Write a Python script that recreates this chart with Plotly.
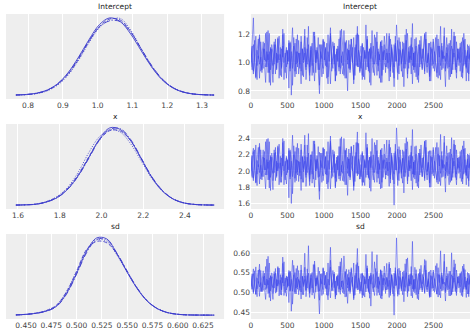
import numpy as np
import plotly.graph_objects as go
from plotly.subplots import make_subplots

# Posterior trace summary for three parameters, four chains each
VAR_NAMES = ["Intercept", "x", "sd"]
N_DRAWS = 3000

# Kernel density estimates per chain (grid + relative density)
KDE_GRID_INTERCEPT = [0.765, 0.795, 0.825, 0.855, 0.885, 0.915, 0.945, 0.975, 1.005, 1.035,
                      1.065, 1.095, 1.125, 1.155, 1.185, 1.215, 1.245, 1.275, 1.305, 1.335]
KDE_INTERCEPT = [
    [0.002, 0.009, 0.026, 0.066, 0.148, 0.29, 0.49, 0.715, 0.91, 0.998, 0.95, 0.79, 0.575, 0.365, 0.2, 0.096, 0.04, 0.014, 0.005, 0.001],
    [0.002, 0.007, 0.022, 0.06, 0.138, 0.27, 0.462, 0.69, 0.885, 0.985, 0.97, 0.82, 0.6, 0.38, 0.21, 0.1, 0.042, 0.015, 0.005, 0.001],
    [0.001, 0.006, 0.02, 0.056, 0.13, 0.258, 0.45, 0.675, 0.87, 0.97, 0.99, 0.84, 0.6, 0.37, 0.205, 0.1, 0.041, 0.016, 0.005, 0.001],
    [0.002, 0.008, 0.025, 0.065, 0.145, 0.28, 0.478, 0.7, 0.88, 0.96, 0.95, 0.815, 0.6, 0.385, 0.212, 0.102, 0.043, 0.015, 0.005, 0.001],
]
KDE_GRID_X = [1.59, 1.64, 1.69, 1.74, 1.79, 1.84, 1.89, 1.94, 1.99, 2.04,
              2.09, 2.14, 2.19, 2.24, 2.29, 2.34, 2.39, 2.44, 2.49, 2.54]
KDE_X = [
    [0.001, 0.004, 0.013, 0.043, 0.1, 0.21, 0.385, 0.615, 0.85, 0.995, 0.975, 0.83, 0.6, 0.36, 0.188, 0.083, 0.031, 0.01, 0.003, 0.001],
    [0.001, 0.005, 0.015, 0.048, 0.11, 0.222, 0.398, 0.625, 0.84, 0.96, 0.955, 0.83, 0.6, 0.368, 0.193, 0.086, 0.033, 0.011, 0.003, 0.001],
    [0.001, 0.005, 0.016, 0.05, 0.115, 0.235, 0.43, 0.68, 0.88, 0.97, 0.94, 0.79, 0.57, 0.35, 0.185, 0.085, 0.033, 0.011, 0.003, 0.001],
    [0.001, 0.004, 0.012, 0.042, 0.1, 0.208, 0.38, 0.605, 0.835, 0.975, 0.985, 0.845, 0.61, 0.372, 0.195, 0.086, 0.031, 0.01, 0.003, 0.001],
]
KDE_GRID_SD = [0.44, 0.45, 0.46, 0.47, 0.48, 0.49, 0.50, 0.51, 0.52, 0.53,
               0.54, 0.55, 0.56, 0.57, 0.58, 0.59, 0.60, 0.61, 0.62, 0.636]
KDE_SD = [
    [0.003, 0.01, 0.024, 0.052, 0.115, 0.28, 0.54, 0.83, 1.0, 0.985, 0.79, 0.555, 0.34, 0.178, 0.082, 0.032, 0.011, 0.003, 0.001, 0.0002],
    [0.003, 0.011, 0.026, 0.058, 0.125, 0.3, 0.565, 0.85, 0.955, 0.935, 0.79, 0.565, 0.348, 0.183, 0.084, 0.033, 0.011, 0.003, 0.001, 0.0002],
    [0.003, 0.01, 0.027, 0.06, 0.13, 0.305, 0.57, 0.845, 0.975, 0.955, 0.775, 0.555, 0.345, 0.182, 0.083, 0.032, 0.011, 0.003, 0.001, 0.0002],
    [0.002, 0.009, 0.023, 0.05, 0.11, 0.27, 0.53, 0.81, 0.98, 0.975, 0.8, 0.57, 0.35, 0.184, 0.085, 0.033, 0.011, 0.003, 0.001, 0.0002],
]

# Thinned chain draws (Intercept and x in hundredths, sd in thousandths)
DRAWS_INTERCEPT = [
    [106, 95, 113, 101, 89, 108, 117, 99, 104, 93, 110, 102, 121, 97, 106, 86, 111, 103, 98, 115,
     92, 107, 100, 119, 105, 96, 112, 88, 103, 109, 99, 114, 94, 106, 125, 101, 90, 108, 97, 116,
     103, 85, 110, 100, 107, 95, 118, 104, 91, 111, 98, 122, 102, 93, 109, 106, 84, 113, 100, 96,
     115, 103, 89, 108, 101, 119, 94, 105, 112, 87, 104, 110, 97, 123, 99, 92, 107, 114, 102, 80,
     109, 96, 117, 101, 88, 106, 113, 98, 120, 94, 105, 91, 111, 103, 127, 97, 108, 86, 114, 100,
     93, 106, 118, 99, 110, 89, 104, 116, 95, 109, 102, 121, 96, 107, 90, 113, 101, 97, 119, 105,
     88, 110, 103, 94, 115, 106, 99, 124, 92, 108, 100, 113, 85, 107, 97, 118, 103, 91, 111, 104,
     96, 109, 120, 101, 93, 106, 114, 87, 102, 117, 107, 99, 90, 112, 104, 126, 95, 108, 100, 83,
     111, 103, 97, 116, 92, 106, 119, 101, 89, 110, 98, 114, 105, 93, 121, 102, 96, 109, 87, 113],
    [97, 112, 132, 101, 90, 109, 103, 118, 94, 106, 115, 99, 86, 108, 102, 121, 95, 110, 92, 104,
     113, 100, 117, 89, 106, 97, 124, 103, 93, 111, 101, 116, 96, 108, 84, 105, 114, 99, 120, 92,
     107, 94, 110, 102, 119, 88, 104, 113, 97, 109, 91, 106, 122, 100, 111, 95, 78, 108, 103, 117,
     105, 98, 114, 90, 107, 125, 101, 96, 112, 87, 110, 103, 94, 118, 100, 108, 91, 115, 106, 99,
     116, 93, 105, 111, 85, 102, 120, 97, 109, 104, 96, 113, 101, 88, 107, 117, 94, 110, 103, 123,
     100, 91, 108, 115, 98, 106, 86, 112, 102, 119, 109, 97, 103, 121, 94, 111, 100, 89, 114, 105,
     93, 118, 106, 99, 110, 83, 107, 116, 101, 96, 112, 102, 128, 95, 108, 90, 104, 113, 97, 119,
     103, 110, 92, 117, 100, 106, 87, 111, 98, 115, 94, 107, 120, 103, 91, 109, 114, 96, 105, 101,
     118, 99, 88, 108, 112, 95, 122, 104, 93, 110, 106, 100, 115, 89, 103, 117, 97, 108, 92, 111],
    [111, 99, 92, 116, 105, 88, 109, 120, 101, 95, 107, 114, 97, 103, 123, 93, 110, 100, 86, 113,
     102, 96, 118, 106, 91, 110, 104, 121, 98, 89, 108, 101, 115, 77, 105, 112, 94, 117, 100, 107,
     96, 119, 103, 90, 111, 105, 99, 126, 93, 108, 114, 100, 87, 109, 103, 118, 95, 106, 113, 92,
     104, 110, 97, 120, 101, 85, 108, 115, 99, 106, 91, 112, 103, 96, 124, 107, 100, 89, 116, 102,
     109, 95, 117, 104, 88, 111, 98, 121, 106, 93, 101, 114, 90, 108, 103, 119, 96, 110, 84, 105,
     112, 99, 106, 122, 94, 102, 115, 91, 108, 100, 97, 110, 103, 87, 117, 105, 93, 113, 101, 127,
     106, 92, 115, 100, 109, 96, 120, 104, 89, 111, 103, 118, 98, 107, 93, 112, 101, 86, 116, 105,
     95, 109, 121, 102, 97, 114, 90, 106, 110, 99, 108, 100, 93, 117, 105, 88, 112, 103, 119, 96,
     101, 113, 106, 90, 124, 99, 107, 95, 115, 102, 110, 94, 104, 118, 98, 109, 87, 113, 103, 106],
    [100, 112, 94, 107, 119, 98, 105, 89, 115, 103, 96, 110, 101, 122, 93, 108, 84, 113, 104, 99,
     117, 95, 106, 102, 111, 90, 120, 100, 107, 97, 109, 82, 114, 103, 96, 118, 101, 92, 108, 106,
     99, 115, 91, 105, 124, 97, 110, 103, 87, 112, 104, 93, 119, 100, 108, 95, 113, 106, 90, 116,
     102, 111, 97, 85, 107, 121, 99, 104, 114, 94, 108, 101, 117, 92, 105, 98, 123, 103, 89, 110,
     96, 113, 104, 100, 118, 91, 107, 126, 97, 106, 112, 88, 103, 109, 95, 116, 101, 93, 111, 105,
     99, 120, 106, 91, 108, 102, 115, 86, 104, 113, 93, 107, 100, 119, 97, 110, 105, 83, 112, 101,
     116, 98, 109, 103, 90, 114, 96, 106, 121, 100, 105, 92, 111, 97, 117, 102, 88, 108, 113, 99,
     110, 103, 94, 122, 100, 107, 91, 115, 104, 96, 101, 118, 105, 89, 112, 98, 109, 103, 125, 94,
     107, 96, 114, 100, 92, 110, 104, 119, 97, 106, 103, 111, 90, 108, 116, 99, 105, 93, 112, 102],
]
DRAWS_X = [
    [210, 192, 224, 203, 185, 214, 229, 198, 207, 189, 217, 201, 236, 195, 211, 179, 219, 204, 197, 226,
     188, 212, 200, 233, 209, 193, 221, 183, 205, 216, 198, 225, 190, 210, 244, 202, 186, 214, 195, 228,
     204, 176, 218, 199, 212, 192, 232, 207, 187, 220, 196, 237, 203, 189, 215, 209, 175, 222, 200, 194,
     227, 205, 184, 213, 202, 235, 191, 208, 221, 181, 206, 218, 194, 240, 199, 188, 211, 225, 203, 170,
     215, 193, 230, 201, 182, 209, 223, 197, 234, 190, 208, 186, 219, 204, 247, 195, 213, 179, 224, 200,
     189, 210, 232, 197, 217, 184, 206, 228, 192, 214, 203, 238, 194, 211, 185, 222, 201, 196, 233, 208,
     182, 217, 205, 191, 226, 210, 198, 241, 188, 213, 200, 223, 177, 211, 195, 231, 205, 187, 219, 207,
     193, 214, 236, 202, 189, 209, 225, 180, 204, 229, 212, 198, 186, 221, 206, 245, 192, 213, 200, 174,
     218, 204, 196, 227, 188, 210, 233, 201, 183, 216, 197, 224, 208, 190, 237, 203, 194, 215, 181, 222],
    [194, 219, 228, 201, 186, 213, 205, 230, 190, 209, 226, 198, 178, 214, 203, 236, 192, 217, 188, 207,
     223, 200, 229, 183, 210, 195, 240, 205, 189, 218, 202, 228, 193, 212, 172, 207, 224, 197, 234, 187,
     211, 190, 217, 203, 232, 181, 206, 222, 195, 214, 185, 209, 237, 200, 219, 192, 165, 213, 204, 229,
     208, 196, 224, 186, 211, 243, 201, 193, 220, 179, 217, 204, 190, 230, 199, 212, 187, 226, 209, 197,
     227, 189, 207, 218, 176, 203, 235, 194, 215, 206, 193, 222, 201, 182, 211, 229, 191, 217, 204, 240,
     200, 186, 213, 225, 196, 209, 178, 220, 203, 233, 214, 195, 205, 238, 190, 219, 199, 184, 224, 208,
     189, 230, 209, 197, 216, 173, 211, 227, 201, 193, 220, 203, 251, 192, 213, 185, 206, 222, 195, 232,
     204, 217, 188, 229, 199, 210, 180, 218, 196, 226, 191, 211, 235, 203, 187, 215, 224, 193, 208, 200,
     231, 197, 183, 212, 221, 192, 238, 206, 189, 216, 209, 199, 226, 184, 204, 228, 195, 213, 188, 219],
    [218, 198, 188, 226, 207, 182, 214, 234, 201, 193, 211, 224, 195, 204, 240, 189, 217, 200, 177, 222,
     203, 194, 231, 209, 186, 216, 206, 237, 197, 184, 213, 201, 226, 160, 207, 220, 191, 229, 199, 212,
     194, 233, 204, 186, 218, 207, 198, 246, 190, 213, 224, 200, 180, 214, 203, 230, 193, 209, 222, 188,
     206, 217, 195, 236, 202, 178, 212, 226, 198, 209, 187, 219, 204, 194, 242, 211, 200, 183, 228, 203,
     215, 192, 230, 206, 181, 218, 197, 235, 209, 190, 201, 224, 186, 212, 204, 233, 193, 217, 175, 208,
     220, 198, 209, 238, 191, 203, 226, 186, 213, 200, 195, 216, 204, 181, 229, 207, 189, 222, 201, 253,
     209, 188, 226, 199, 215, 193, 234, 206, 184, 218, 203, 231, 196, 211, 190, 221, 201, 179, 227, 207,
     193, 214, 237, 203, 195, 224, 185, 209, 217, 198, 212, 200, 189, 229, 207, 182, 219, 204, 235, 194,
     201, 222, 209, 186, 241, 197, 212, 192, 226, 203, 217, 191, 205, 231, 196, 214, 183, 221, 204, 209],
    [200, 219, 191, 211, 232, 196, 208, 184, 226, 204, 193, 216, 201, 239, 189, 213, 176, 222, 205, 198,
     229, 192, 210, 203, 218, 186, 235, 200, 212, 195, 214, 167, 224, 204, 193, 231, 201, 188, 213, 209,
     198, 226, 186, 207, 244, 195, 217, 204, 182, 220, 205, 190, 233, 200, 213, 192, 223, 209, 186, 228,
     203, 218, 196, 178, 211, 237, 198, 206, 224, 191, 213, 201, 230, 188, 207, 197, 240, 204, 183, 217,
     194, 222, 206, 200, 232, 187, 211, 248, 196, 209, 220, 182, 204, 214, 192, 228, 201, 189, 218, 207,
     198, 235, 209, 186, 213, 202, 226, 179, 206, 221, 190, 211, 200, 233, 195, 217, 207, 158, 219, 201,
     227, 197, 214, 203, 185, 224, 193, 209, 236, 200, 207, 188, 218, 196, 230, 202, 181, 213, 222, 198,
     216, 204, 191, 238, 200, 211, 186, 225, 205, 194, 201, 229, 207, 184, 219, 197, 214, 203, 243, 191,
     211, 194, 223, 200, 189, 216, 206, 232, 196, 209, 204, 218, 187, 212, 227, 198, 207, 191, 220, 203],
]
DRAWS_SD = [
    [529, 508, 548, 518, 495, 535, 557, 514, 525, 501, 540, 519, 566, 510, 531, 487, 543, 522, 512, 553,
     498, 533, 516, 562, 528, 506, 545, 492, 523, 538, 513, 551, 503, 530, 582, 519, 496, 536, 508, 556,
     522, 483, 541, 515, 533, 505, 560, 526, 497, 544, 511, 571, 521, 500, 537, 529, 480, 547, 516, 507,
     554, 523, 493, 534, 518, 565, 504, 527, 547, 489, 525, 542, 509, 578, 515, 499, 531, 552, 520, 472,
     538, 506, 559, 518, 491, 528, 549, 512, 567, 503, 527, 494, 543, 521, 597, 510, 534, 485, 550, 517,
     501, 530, 561, 512, 540, 493, 525, 555, 505, 536, 520, 574, 508, 531, 492, 546, 517, 510, 563, 527,
     490, 541, 523, 504, 552, 530, 513, 585, 498, 535, 516, 548, 486, 531, 509, 558, 522, 496, 544, 526,
     506, 536, 569, 519, 501, 528, 553, 488, 521, 557, 533, 513, 495, 546, 525, 606, 504, 535, 517, 478,
     542, 521, 509, 554, 496, 530, 564, 518, 492, 539, 511, 550, 527, 500, 572, 520, 507, 537, 489, 546],
    [507, 544, 560, 516, 495, 537, 523, 559, 502, 529, 555, 512, 482, 534, 519, 575, 504, 540, 497, 526,
     549, 516, 563, 491, 531, 508, 590, 522, 499, 542, 517, 556, 505, 533, 470, 525, 551, 511, 568, 494,
     530, 501, 541, 520, 564, 489, 524, 549, 508, 536, 493, 528, 580, 516, 543, 505, 445, 535, 521, 561,
     527, 510, 552, 492, 532, 615, 517, 504, 546, 483, 541, 522, 500, 566, 514, 530, 496, 554, 527, 511,
     558, 497, 524, 539, 481, 519, 571, 506, 537, 525, 503, 547, 518, 488, 533, 560, 500, 542, 521, 604,
     514, 492, 535, 553, 509, 528, 485, 545, 519, 567, 537, 506, 523, 577, 498, 544, 513, 490, 555, 529,
     496, 562, 527, 509, 540, 476, 531, 551, 516, 503, 546, 520, 630, 502, 534, 494, 524, 548, 507, 569,
     521, 539, 497, 557, 515, 530, 487, 543, 510, 552, 500, 533, 574, 519, 493, 538, 550, 505, 526, 517,
     565, 511, 491, 532, 545, 501, 583, 524, 498, 540, 528, 514, 553, 489, 521, 558, 508, 535, 496, 544],
    [543, 512, 497, 555, 527, 489, 536, 572, 516, 503, 532, 549, 507, 521, 592, 498, 541, 515, 482, 547,
     519, 505, 566, 529, 494, 538, 524, 578, 510, 490, 534, 516, 554, 452, 526, 545, 500, 561, 514, 533,
     505, 570, 522, 494, 542, 528, 511, 619, 499, 537, 551, 516, 484, 536, 520, 564, 503, 530, 548, 495,
     525, 541, 508, 575, 518, 486, 535, 556, 512, 529, 493, 545, 521, 506, 587, 532, 515, 488, 559, 519,
     538, 502, 563, 524, 485, 543, 510, 576, 528, 497, 517, 550, 492, 534, 522, 568, 504, 540, 465, 531,
     546, 513, 529, 596, 499, 520, 557, 491, 536, 516, 506, 539, 522, 487, 562, 527, 496, 549, 517, 639,
     530, 494, 555, 512, 540, 503, 573, 526, 489, 544, 521, 566, 509, 533, 498, 547, 518, 481, 560, 528,
     501, 536, 584, 520, 507, 552, 492, 529, 541, 511, 535, 515, 496, 563, 527, 486, 544, 522, 579, 504,
     518, 548, 530, 491, 601, 510, 537, 502, 557, 523, 542, 499, 526, 567, 508, 539, 487, 551, 520, 533],
    [515, 547, 501, 533, 565, 509, 528, 490, 556, 522, 505, 542, 518, 585, 497, 537, 478, 550, 526, 511,
     561, 500, 532, 520, 545, 493, 574, 516, 537, 506, 540, 474, 553, 524, 503, 569, 517, 496, 539, 530,
     512, 557, 494, 528, 600, 505, 543, 521, 487, 548, 526, 499, 571, 516, 538, 502, 554, 531, 492, 563,
     519, 544, 506, 481, 535, 582, 513, 527, 552, 498, 538, 517, 567, 495, 529, 508, 593, 524, 489, 546,
     503, 552, 527, 515, 575, 493, 536, 612, 507, 531, 548, 486, 523, 540, 501, 562, 518, 496, 545, 529,
     511, 578, 533, 492, 539, 520, 558, 483, 527, 550, 497, 536, 515, 572, 506, 544, 525, 442, 547, 518,
     559, 509, 538, 522, 494, 555, 503, 532, 588, 516, 528, 491, 543, 507, 564, 520, 484, 537, 551, 511,
     546, 523, 500, 581, 514, 535, 490, 557, 527, 504, 517, 568, 529, 488, 545, 509, 540, 521, 598, 499,
     536, 506, 554, 516, 493, 542, 526, 573, 508, 530, 524, 547, 492, 537, 561, 513, 529, 496, 549, 521],
]
DRAW_UNITS = [100.0, 100.0, 1000.0]

# Tick positions and labels
KDE_TICKS = [
    [0.8, 0.9, 1.0, 1.1, 1.2, 1.3],
    [1.6, 1.8, 2.0, 2.2, 2.4],
    [0.450, 0.475, 0.500, 0.525, 0.550, 0.575, 0.600, 0.625],
]
KDE_TICKFORMAT = [".1f", ".1f", ".3f"]
TRACE_YTICKS = [
    [0.8, 1.0, 1.2],
    [1.6, 1.8, 2.0, 2.2, 2.4],
    [0.45, 0.50, 0.55, 0.60],
]
TRACE_TICKFORMAT = [".1f", ".1f", ".2f"]
TRACE_XTICKS = [0, 500, 1000, 1500, 2000, 2500]

KDE_GRIDS = [KDE_GRID_INTERCEPT, KDE_GRID_X, KDE_GRID_SD]
KDES = [KDE_INTERCEPT, KDE_X, KDE_SD]
DRAWS = [DRAWS_INTERCEPT, DRAWS_X, DRAWS_SD]

KDE_COLOR = "#3d3dcc"
TRACE_COLOR = "rgba(62,70,236,0.6)"
KDE_DASH = ["solid", "4px,2px", "1px,1.6px", "6px,2px,1px,2px"]
BG = "#eeeeee"
FONT = "DejaVu Sans"
TEXT_COLOR = "#444444"

W, H = 474, 333
fig = make_subplots(rows=3, cols=2)

for r in range(3):
    for c in range(4):
        fig.add_trace(go.Scatter(
            x=KDE_GRIDS[r], y=KDES[r][c], mode="lines",
            line=dict(color=KDE_COLOR, width=0.9, dash=KDE_DASH[c], shape="spline"),
            showlegend=False, hoverinfo="skip"), row=r + 1, col=1)
    for c in range(4):
        vals = np.array(DRAWS[r][c]) / DRAW_UNITS[r]
        idx = np.linspace(0, N_DRAWS - 1, len(vals))
        fig.add_trace(go.Scatter(
            x=idx, y=vals, mode="lines",
            line=dict(color=TRACE_COLOR, width=0.9),
            showlegend=False, hoverinfo="skip"), row=r + 1, col=2)

# Panel placement in pixels: (left, right) per column, (top, bottom) per row
COL_PX = [(4, 223), (250, 470)]
ROW_PX = [(14, 99), (124, 209), (234, 319)]

annotations = []
for r in range(3):
    y0 = 1 - ROW_PX[r][1] / H
    y1 = 1 - ROW_PX[r][0] / H
    for col in range(2):
        k = r * 2 + col + 1
        xa = "xaxis" if k == 1 else f"xaxis{k}"
        ya = "yaxis" if k == 1 else f"yaxis{k}"
        x0 = COL_PX[col][0] / W
        x1 = COL_PX[col][1] / W
        common = dict(showline=False, zeroline=False, ticks="", ticklen=0,
                      tickfont=dict(family=FONT, size=7.5, color=TEXT_COLOR),
                      gridcolor="white", gridwidth=1)
        if col == 0:
            lo = min(KDE_GRIDS[r])
            hi = max(KDE_GRIDS[r])
            pad = 0.05 * (hi - lo)
            ymax = max(max(d) for d in KDES[r])
            fig.layout[xa].update(domain=[x0, x1], range=[lo - pad, hi + pad],
                                  tickvals=KDE_TICKS[r], tickformat=KDE_TICKFORMAT[r],
                                  showgrid=True, **common)
            fig.layout[ya].update(domain=[y0, y1], range=[-0.05 * ymax, 1.05 * ymax],
                                  showticklabels=False, showgrid=False,
                                  showline=False, zeroline=False)
        else:
            allv = np.concatenate([np.array(d) / DRAW_UNITS[r] for d in DRAWS[r]])
            pad = 0.05 * (allv.max() - allv.min())
            fig.layout[xa].update(domain=[x0, x1], range=[0, N_DRAWS],
                                  tickvals=TRACE_XTICKS, showgrid=True, **common)
            fig.layout[ya].update(domain=[y0, y1],
                                  range=[allv.min() - pad, allv.max() + pad],
                                  tickvals=TRACE_YTICKS[r], tickformat=TRACE_TICKFORMAT[r],
                                  showgrid=True, **common)
        annotations.append(dict(
            text=VAR_NAMES[r], x=(x0 + x1) / 2, y=y1, xref="paper", yref="paper",
            xanchor="center", yanchor="bottom", yshift=1, showarrow=False,
            font=dict(family=FONT, size=7.5, color="#222222")))

fig.update_layout(
    width=W, height=H, margin=dict(l=0, r=0, t=0, b=0),
    paper_bgcolor="white", plot_bgcolor=BG,
    annotations=annotations,
)

fig.write_html("out.html")
